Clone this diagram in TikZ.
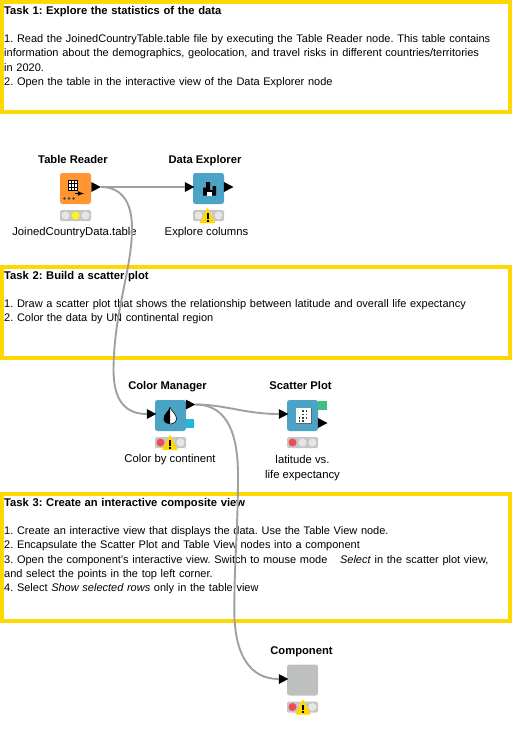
\documentclass[tikz,border=0pt]{standalone}
\usepackage{fontspec}
\setmainfont{Liberation Sans}
\usetikzlibrary{shapes.geometric}
\frenchspacing

\definecolor{taskyellow}{HTML}{FFD800}
\definecolor{nodeorange}{HTML}{FF9632}
\definecolor{nodeblue}{HTML}{4BA3C5}
\definecolor{nodegrey}{HTML}{BEC0BF}
\definecolor{wiregrey}{HTML}{A0A0A0}
\definecolor{lightbar}{HTML}{C6C6C6}
\definecolor{lightoff}{HTML}{E6E6E6}
\definecolor{lightred}{HTML}{EE4C55}
\definecolor{lightyellow}{HTML}{FFF21E}
\definecolor{portcyan}{HTML}{22B7DA}
\definecolor{portgreen}{HTML}{40BF80}

\tikzset{
  taskbox/.style={draw=taskyellow,line width=3.6pt,fill=white},
  tasktext/.style={anchor=north west,inner sep=0pt,text width=506pt,align=left,
    font=\fontsize{11}{14.2}\selectfont},
  nodebox/.style={rounded corners=2.5pt,minimum size=31pt,inner sep=0pt},
  nodetitle/.style={anchor=base,font=\fontsize{11.2}{13}\selectfont\bfseries,inner sep=0pt},
  nodelabel/.style={anchor=base,font=\fontsize{11.3}{15}\selectfont,inner sep=0pt,align=center},
  porttip/.style={isosceles triangle,isosceles triangle stretches,fill=black,
    minimum width=10pt,minimum height=9.5pt,inner sep=0pt,outer sep=0pt},
  lightbarbox/.style={fill=lightbar,rounded corners=1.5pt,minimum width=31pt,
    minimum height=11pt,inner sep=0pt},
  lamp/.style={circle,minimum size=8pt,inner sep=0pt},
  wire/.style={draw=wiregrey,line width=1.9pt},
  warnsign/.style={fill=taskyellow,draw=taskyellow,line width=1.2pt,line join=round}
}

\newcommand{\tasktitle}[1]{{\fontsize{11.2}{14.2}\selectfont\textbf{#1}}}
% status lights under a node: x, y, left, middle and right colour
\newcommand{\statuslights}[6]{
  \node[lightbarbox] (#1bar) at (#2,#3) {};
  \node[lamp,fill=#4] (#1a) at (#2-10,#3) {};
  \node[lamp,fill=#5] (#1b) at (#2,#3) {};
  \node[lamp,fill=#6] (#1c) at (#2+10,#3) {};
}
% warning triangle with its tip at x, y
\newcommand{\warnmark}[2]{
  \fill[warnsign] (#1,#2+0.8) -- (#1+7,#2+14.5) -- (#1-7,#2+14.5) -- cycle;
  \fill[black] (#1-1,#2+5) rectangle (#1+1,#2+10.5);
  \fill[black] (#1-1,#2+11.5) rectangle (#1+1,#2+13.5);
}

\begin{document}
\begin{tikzpicture}[x=1pt,y=-1pt]
    \useasboundingbox (0,0) rectangle (512,732);

    % Task boxes
    \draw[taskbox] (1.8,1.8) rectangle (510.2,112);
    \draw[taskbox] (1.8,267) rectangle (510.2,358);
    \draw[taskbox] (1.8,494) rectangle (510.2,621);

    \node[tasktext] (task1) at (4,6) {\tasktitle{Task 1: Explore the statistics of the data}\\[14.2pt]
      1. Read the JoinedCountryTable.table file by executing the Table Reader node. This table contains\\
      information about the demographics, geolocation, and travel risks in different countries/territories\\
      in 2020.\\
      2. Open the table in the interactive view of the Data Explorer node};
    \node[tasktext] (task2) at (4,271) {\tasktitle{Task 2: Build a scatter plot}\\[14.2pt]
      1. Draw a scatter plot that shows the relationship between latitude and overall life expectancy\\
      2. Color the data by UN continental region};
    \node[tasktext] (task3) at (4,498) {\tasktitle{Task 3: Create an interactive composite view}\\[14.2pt]
      1. Create an interactive view that displays the data. Use the Table View node.\\
      2. Encapsulate the Scatter Plot and Table View nodes into a component\\
      3. Open the component's interactive view. Switch to mouse mode\hspace{9pt} \textit{Select} in the scatter plot view,\\
      and select the points in the top left corner.\\
      4. Select \textit{Show selected rows} only in the table view};

    % Table Reader
    \node[nodebox,fill=nodeorange] (reader) at (75.5,188.5) {};
    \node[nodetitle] (readertitle) at (73,163) {Table Reader};
    \node[nodelabel] (readerlabel) at (74.5,235.5) {JoinedCountryData.table};
    \node[porttip] (readerout) at (94.3,187) {};
    \statuslights{reader}{75.5}{215.5}{lightoff}{lightyellow}{lightoff}
    \draw[black,fill=white,line width=0.6pt] (68.5,180.5) rectangle (77.5,190);
    \foreach \i in {1,2} {
      \draw[black,line width=0.6pt] (68.5+3*\i,180.5) -- (68.5+3*\i,190);
      \draw[black,line width=0.6pt] (68.5,180.5+3.2*\i) -- (77.5,180.5+3.2*\i);
    }
    \draw[black,line width=1.1pt,-latex] (74.5,193.5) -- (84,193.5);
    \foreach \i in {0,1,2} \fill[black!75] (64.5+4.5*\i,198.5) circle (1.3);

    % Data Explorer
    \node[nodebox,fill=nodeblue] (explorer) at (208.5,188.5) {};
    \node[nodetitle] (explorertitle) at (205,163) {Data Explorer};
    \node[nodelabel] (explorerlabel) at (206.5,235.5) {Explore columns};
    \node[porttip] (explorerin) at (187.8,187) {};
    \node[porttip] (explorerout) at (227,187) {};
    \statuslights{explorer}{208.5}{215.5}{lightoff}{lightoff}{lightoff}
    \fill[black] (203,195.5) -- (203,187.5) -- (206,187.5) -- (206,182) -- (210,182) -- (210,190)
      -- (212.5,190) -- (212.5,186) -- (216,186) -- (216,195.5) -- cycle;
    \fill[white] (207,191.5) rectangle (212,195.5);
    \warnmark{207.5}{208}

    % Color Manager
    \node[nodebox,fill=nodeblue] (colorman) at (170.5,415.5) {};
    \node[nodetitle] (colormantitle) at (167.5,389.5) {Color Manager};
    \node[nodelabel] (colormanlabel) at (170,462.7) {Color by continent};
    \node[porttip] (colormanin) at (149.8,414) {};
    \node[porttip] (colormanout) at (188.8,404.5) {};
    \fill[portcyan] (186,419) rectangle (194,428);
    \statuslights{colorman}{170.5}{442.5}{lightred}{lightoff}{lightoff}
    \fill[white] (170,407) .. controls (171,411) and (176.5,414) .. (176.5,418.5) .. controls (176.5,422) and (173.5,424) .. (170,424) -- cycle;
    \fill[black] (170,407) .. controls (169,411) and (163.5,414) .. (163.5,418.5) .. controls (163.5,422) and (166.5,424) .. (170,424) -- cycle;
    \draw[black,line width=0.6pt] (170,407) .. controls (171,411) and (176.5,414) .. (176.5,418.5) .. controls (176.5,422) and (173.5,424) .. (170,424);
    \warnmark{170}{435}

    % Scatter Plot
    \node[nodebox,fill=nodeblue] (scatter) at (302.5,415.5) {};
    \node[nodetitle] (scattertitle) at (300.5,389.5) {Scatter Plot};
    \node[nodelabel] (scatterlabel) at (302.5,478) {latitude vs.\\life expectancy};
    \node[porttip] (scatterin) at (281.8,414) {};
    \node[porttip] (scatterout) at (321,423) {};
    \fill[portgreen] (317.5,401) rectangle (327,410);
    \statuslights{scatter}{302.5}{442.5}{lightred}{lightoff}{lightoff}
    \fill[white] (296,407.5) rectangle (311,423);
    \draw[black!60,line width=0.5pt] (296,423) -- (311,423) -- (311,407.5);
    \foreach \px/\py in {303/411,306.7/411,303/414.5,306.7/414.5,299.3/418,303/418,306.7/418,299.3/421,303/421}
      \fill[black!75] (\px-0.7,\py-0.7) rectangle (\px+0.7,\py+0.7);

    % Component
    \node[nodebox,fill=nodegrey] (component) at (302.5,680) {};
    \node[nodetitle] (componenttitle) at (301.5,654) {Component};
    \node[porttip] (componentin) at (281.8,679) {};
    \statuslights{component}{302.5}{707}{lightred}{lightoff}{lightoff}
    \warnmark{303}{699.5}

    % Connections
    \draw[wire] (readerout.apex) -- (explorerin.west);
    \draw[wire] (readerout.apex) .. controls (120,187) and (132,200) .. (132,228)
      .. controls (132,270) and (114,310) .. (113.5,370)
      .. controls (113.5,400) and (125,414) .. (colormanin.west);
    \draw[wire] (colormanout.apex) .. controls (225,404.5) and (245,414) .. (scatterin.west);
    \draw[wire] (colormanout.apex) .. controls (222,404.5) and (238,425) .. (238,475)
      .. controls (238,530) and (234.3,560) .. (234.3,610)
      .. controls (234.3,655) and (250,679) .. (componentin.west);
\end{tikzpicture}
\end{document}
